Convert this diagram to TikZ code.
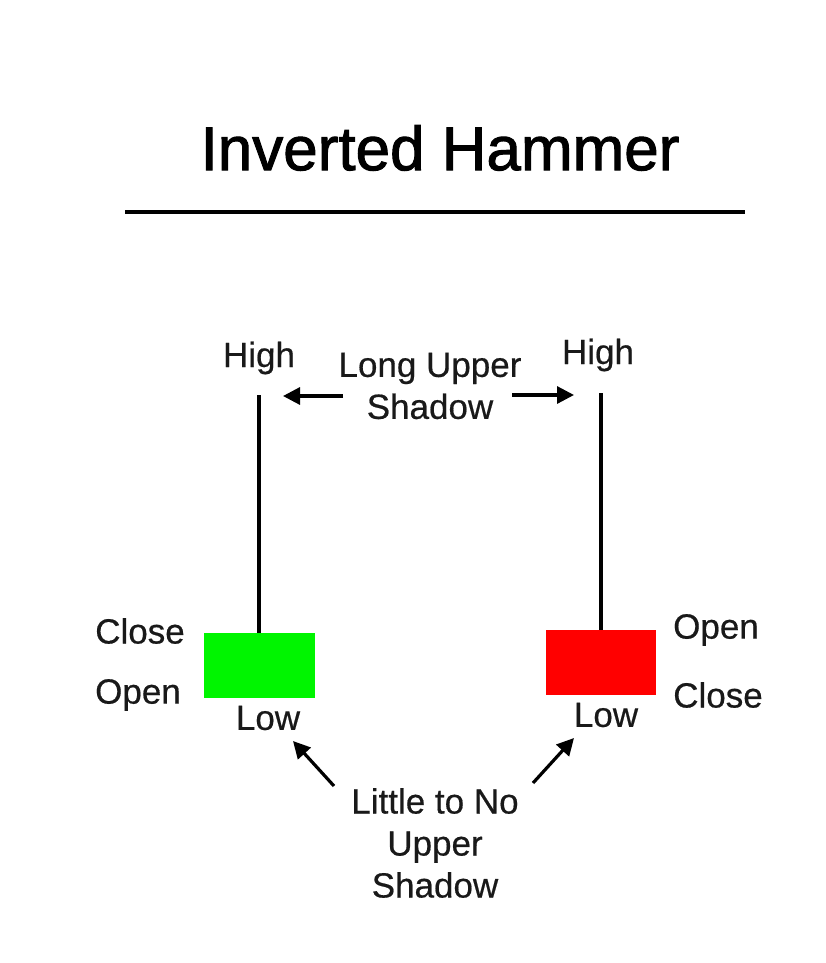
\documentclass[tikz,border=0pt]{standalone}
\usepackage{fontspec}
\setmainfont{Liberation Sans}
\newfontfamily\titlefont{Liberation Sans}[FakeBold=1.6]
\newfontfamily\labelfont{Liberation Sans}[FakeBold=0.5]
\usetikzlibrary{arrows.meta}
\begin{document}
\begin{tikzpicture}[x=1pt,y=-1pt,
  lbl/.style={font=\labelfont\fontsize{35}{42}\selectfont, inner sep=0pt, align=center, text=black!90},
  wick/.style={line width=4pt},
  arr/.style={line width=3.2pt, -{Triangle[length=17pt,width=17pt]}}
]
\useasboundingbox[fill=white] (0,0) rectangle (825,963);
% title
\node[font=\titlefont\fontsize{62}{70}\selectfont, inner sep=0pt] (title) at (440,148) {Inverted Hammer};
\coordinate (ruleL) at (125,212);
\coordinate (ruleR) at (745,212);
\draw[line width=4pt] (ruleL) -- (ruleR);
% left candle (green)
\node[fill={rgb,255:red,0;green,245;blue,0}, minimum width=111pt, minimum height=65pt, inner sep=0pt] (gbody) at (259.5,665.5) {};
\coordinate (ghigh) at (259,395);
\draw[wick] (ghigh) -- (ghigh |- gbody.north);
% right candle (red)
\node[fill={rgb,255:red,255;green,0;blue,0}, minimum width=110pt, minimum height=65pt, inner sep=0pt] (rbody) at (601,662.5) {};
\coordinate (rhigh) at (601,393);
\draw[wick] (rhigh) -- (rhigh |- rbody.north);
% labels
\node[lbl] (highL) at (259,358) {High};
\node[lbl] (highR) at (598,355) {High};
\node[lbl] (lus) at (430,386) {Long Upper\\Shadow};
\node[lbl] (closeL) at (140,631) {Close};
\node[lbl] (openL) at (138,695) {Open};
\node[lbl] (lowL) at (268,718) {Low};
\node[lbl] (openR) at (716,630) {Open};
\node[lbl] (closeR) at (718,695) {Close};
\node[lbl] (lowR) at (606,715) {Low};
\node[lbl] (lns) at (435,843) {Little to No\\Upper\\Shadow};
% arrows
\coordinate (a1s) at (343,396);
\coordinate (a1e) at (283,396);
\coordinate (a2s) at (512,395);
\coordinate (a2e) at (574,395);
\coordinate (a3s) at (334,786);
\coordinate (a3e) at (293,741);
\coordinate (a4s) at (533,783);
\coordinate (a4e) at (574,738);
\draw[arr] (a1s) -- (a1e);
\draw[arr] (a2s) -- (a2e);
\draw[arr] (a3s) -- (a3e);
\draw[arr] (a4s) -- (a4e);
\end{tikzpicture}
\end{document}
